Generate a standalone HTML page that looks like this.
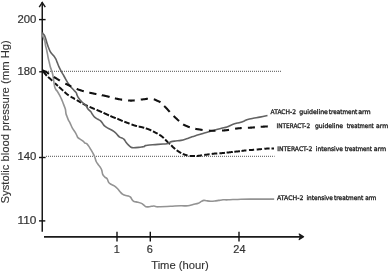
<!DOCTYPE html>
<html><head><meta charset="utf-8"><style>
html,body{margin:0;padding:0;background:#fff;}
body{width:389px;height:273px;overflow:hidden;}
svg{display:block;}
text{font-family:"Liberation Sans",Arial,sans-serif;}
.leg text{font-family:"DejaVu Sans","Liberation Sans",sans-serif;}
</style></head><body>
<svg width="389" height="273" viewBox="0 0 389 273">
<rect width="389" height="273" fill="#fff"/>
<line x1="46" y1="71.4" x2="281.6" y2="71.4" stroke="#747474" stroke-width="1.1" stroke-dasharray="1,1"/>
<line x1="46" y1="156.4" x2="274.6" y2="156.4" stroke="#747474" stroke-width="1.1" stroke-dasharray="1,1"/>
<line x1="42.25" y1="2" x2="42.25" y2="231.7" stroke="#1a1a1a" stroke-width="1.5"/>
<polyline points="39.2,7.2 42.25,2.5 45.3,7.2" fill="none" stroke="#1a1a1a" stroke-width="1.4"/>
<line x1="44" y1="236.8" x2="303" y2="236.8" stroke="#1a1a1a" stroke-width="1.7"/>
<polygon points="299.2,234 303.6,236.8 299.2,239.6 300.6,236.8" fill="#1a1a1a" stroke="#1a1a1a" stroke-width="1.2" stroke-linejoin="round"/>
<path d="M42.40,70.40 L42.50,70.40 L42.56,70.48 L42.62,70.57 L42.70,70.67 L42.78,70.78 L42.87,70.90 L42.97,71.03 L43.07,71.17 L43.17,71.32 L43.29,71.47 L43.40,71.63 L43.52,71.78 L43.64,71.95 L43.76,72.11 L43.88,72.27 L44.00,72.43 L44.13,72.60 L44.25,72.75 L44.37,72.91 L44.49,73.06 L44.60,73.20 L44.71,73.34 L44.83,73.48 L44.94,73.62 L45.05,73.76 L45.16,73.90 L45.28,74.05 L45.39,74.19 L45.51,74.33 L45.63,74.47 L45.74,74.61 L45.86,74.75 L45.98,74.89 L46.10,75.03 L46.23,75.17 L46.35,75.31 L46.48,75.45 L46.60,75.59 L46.73,75.73 L46.80,75.80 M48.00,76.91 L48.15,77.04 L48.30,77.16 L48.45,77.29 L48.60,77.41 L48.76,77.54 L48.91,77.67 L49.07,77.80 L49.22,77.93 L49.38,78.06 L49.53,78.19 L49.69,78.32 L49.84,78.46 L50.00,78.60 L50.16,78.74 L50.31,78.88 L50.47,79.03 L50.63,79.17 L50.79,79.32 L50.95,79.47 L51.11,79.62 L51.27,79.77 L51.43,79.92 L51.59,80.07 L51.75,80.23 L51.91,80.38 L52.07,80.53 L52.23,80.69 L52.30,80.75 M54.90,83.20 L55.01,83.30 L55.17,83.45 L55.33,83.60 L55.49,83.75 L55.65,83.90 L55.80,84.04 L55.96,84.19 L56.11,84.33 L56.26,84.47 L56.40,84.60 L56.54,84.73 L56.68,84.86 L56.82,84.99 L56.95,85.11 L57.08,85.23 L57.21,85.35 L57.34,85.47 L57.46,85.59 L57.59,85.70 L57.71,85.82 L57.83,85.93 L57.90,85.99 M58.90,86.90 L59.02,87.00 L59.13,87.10 L59.24,87.20 L59.35,87.30 L59.46,87.39 L59.57,87.48 L59.67,87.57 L59.78,87.66 L59.88,87.75 L59.99,87.84 L60.09,87.93 L60.20,88.02 L60.30,88.11 L60.41,88.20 L60.52,88.29 L60.63,88.39 L60.75,88.49 L60.86,88.59 L60.98,88.69 L61.10,88.80 L61.22,88.91 L61.35,89.03 L61.48,89.14 L61.61,89.26 L61.74,89.38 L61.87,89.51 L62.00,89.63 L62.14,89.76 L62.28,89.88 L62.41,90.01 L62.55,90.14 L62.69,90.27 L62.83,90.40 L62.97,90.53 L63.11,90.66 L63.20,90.75 M64.50,91.94 L64.63,92.06 L64.76,92.19 L64.90,92.31 L65.04,92.44 L65.18,92.57 L65.32,92.70 L65.46,92.82 L65.60,92.95 L65.74,93.07 L65.88,93.20 L66.03,93.32 L66.17,93.44 L66.31,93.56 L66.46,93.68 L66.60,93.80 L66.75,93.92 L66.89,94.03 L67.04,94.15 L67.18,94.27 L67.33,94.38 L67.48,94.49 L67.63,94.61 L67.78,94.72 L67.93,94.83 L68.07,94.94 L68.23,95.05 L68.38,95.16 L68.53,95.27 L68.68,95.38 L68.70,95.39 M70.60,96.60 L70.71,96.66 L70.87,96.75 L71.03,96.84 L71.19,96.93 L71.35,97.01 L71.51,97.10 L71.67,97.19 L71.83,97.27 L72.00,97.36 L72.16,97.45 L72.32,97.53 L72.48,97.62 L72.64,97.71 L72.80,97.80 L72.96,97.89 L73.12,97.98 L73.28,98.07 L73.44,98.16 L73.60,98.25 L73.77,98.34 L73.93,98.43 L74.09,98.52 L74.25,98.61 L74.41,98.70 L74.57,98.79 L74.73,98.88 L74.89,98.97 L74.90,98.97 M76.90,100.13 L76.91,100.14 L77.06,100.23 L77.21,100.32 L77.36,100.41 L77.51,100.50 L77.66,100.59 L77.81,100.68 L77.96,100.77 L78.11,100.86 L78.25,100.95 L78.40,101.04 L78.55,101.13 L78.70,101.22 L78.85,101.31 L79.00,101.40 L79.15,101.49 L79.30,101.58 L79.45,101.67 L79.60,101.76 L79.75,101.85 L79.89,101.94 L80.04,102.03 L80.19,102.12 L80.34,102.22 L80.49,102.31 L80.64,102.40 L80.79,102.49 L80.94,102.58 L81.09,102.67 L81.20,102.74 M82.70,103.59 L82.77,103.63 L82.93,103.72 L83.08,103.80 L83.24,103.89 L83.39,103.97 L83.55,104.06 L83.71,104.14 L83.87,104.22 L84.03,104.31 L84.19,104.39 L84.35,104.48 L84.52,104.56 L84.69,104.65 L84.85,104.73 L85.03,104.82 L85.20,104.90 L85.38,104.99 L85.56,105.07 L85.74,105.16 L85.93,105.24 L86.12,105.33 L86.31,105.42 L86.51,105.51 L86.71,105.59 L86.90,105.68 L87.10,105.77 L87.30,105.86 L87.49,105.94 L87.69,106.03 L87.70,106.03 M89.60,106.87 L89.67,106.90 L89.83,106.97 L89.99,107.04 L90.14,107.10 L90.29,107.17 L90.45,107.24 L90.60,107.31 L90.75,107.37 L90.91,107.44 L91.06,107.51 L91.21,107.57 L91.37,107.64 L91.53,107.71 L91.69,107.78 L91.86,107.85 L92.03,107.93 L92.20,108.00 L92.38,108.08 L92.56,108.15 L92.74,108.23 L92.93,108.31 L93.12,108.39 L93.31,108.47 L93.51,108.55 L93.70,108.64 L93.90,108.72 L94.09,108.80 L94.29,108.88 L94.49,108.96 L94.68,109.05 L94.70,109.05 M96.60,109.85 L96.69,109.89 L96.85,109.96 L97.01,110.03 L97.18,110.10 L97.34,110.16 L97.50,110.23 L97.66,110.30 L97.82,110.37 L97.98,110.44 L98.14,110.50 L98.30,110.57 L98.46,110.64 L98.62,110.71 L98.79,110.78 L98.96,110.85 L99.13,110.93 L99.30,111.00 L99.48,111.08 L99.66,111.15 L99.84,111.23 L100.02,111.31 L100.21,111.39 L100.40,111.47 L100.59,111.55 L100.78,111.63 L100.97,111.71 L101.16,111.79 L101.35,111.88 L101.54,111.96 L101.73,112.04 L101.91,112.12 L102.00,112.16 M103.50,112.83 L103.50,112.83 L103.66,112.90 L103.82,112.98 L103.98,113.05 L104.13,113.12 L104.29,113.20 L104.44,113.27 L104.59,113.34 L104.75,113.42 L104.90,113.49 L105.06,113.56 L105.21,113.64 L105.37,113.71 L105.53,113.79 L105.69,113.87 L105.86,113.94 L106.03,114.02 L106.20,114.10 L106.38,114.18 L106.56,114.26 L106.74,114.35 L106.93,114.43 L107.12,114.52 L107.32,114.60 L107.51,114.69 L107.71,114.78 L107.91,114.87 L108.11,114.96 L108.30,115.04 L108.50,115.13 L108.70,115.22 L108.89,115.31 L108.90,115.31 M110.40,115.98 L110.50,116.03 L110.65,116.10 L110.81,116.17 L110.96,116.24 L111.10,116.31 L111.25,116.38 L111.40,116.45 L111.54,116.52 L111.69,116.59 L111.84,116.65 L111.98,116.72 L112.13,116.79 L112.29,116.86 L112.44,116.92 L112.60,116.99 L112.76,117.06 L112.93,117.13 L113.10,117.20 L113.28,117.27 L113.46,117.34 L113.65,117.41 L113.84,117.48 L114.04,117.55 L114.24,117.62 L114.44,117.69 L114.65,117.76 L114.85,117.84 L115.06,117.91 L115.26,117.98 L115.47,118.05 L115.67,118.12 L115.80,118.16 M117.30,118.72 L117.33,118.73 L117.49,118.80 L117.65,118.86 L117.80,118.93 L117.95,118.99 L118.10,119.05 L118.24,119.12 L118.38,119.18 L118.53,119.24 L118.67,119.31 L118.81,119.37 L118.95,119.43 L119.09,119.50 L119.24,119.56 L119.38,119.63 L119.53,119.70 L119.68,119.76 L119.84,119.83 L120.00,119.90 L120.16,119.97 L120.33,120.04 L120.50,120.12 L120.67,120.19 L120.84,120.27 L121.01,120.34 L121.19,120.42 L121.36,120.50 L121.54,120.57 L121.72,120.65 L121.90,120.73 L122.08,120.80 L122.26,120.88 L122.43,120.96 L122.61,121.03 L122.70,121.07 M124.30,121.71 L124.36,121.73 L124.53,121.80 L124.71,121.86 L124.88,121.92 L125.05,121.99 L125.22,122.05 L125.39,122.11 L125.56,122.18 L125.74,122.24 L125.91,122.30 L126.09,122.37 L126.27,122.43 L126.45,122.50 L126.63,122.56 L126.81,122.63 L127.00,122.70 L127.19,122.77 L127.38,122.84 L127.58,122.92 L127.78,122.99 L127.98,123.07 L128.19,123.14 L128.39,123.22 L128.60,123.30 L128.80,123.38 L129.01,123.46 L129.22,123.53 L129.43,123.61 L129.60,123.68 M131.50,124.39 L131.53,124.40 L131.70,124.46 L131.86,124.53 L132.03,124.59 L132.19,124.65 L132.35,124.71 L132.51,124.77 L132.67,124.83 L132.83,124.89 L132.98,124.95 L133.14,125.01 L133.30,125.06 L133.46,125.12 L133.63,125.18 L133.79,125.23 L133.96,125.29 L134.13,125.34 L134.30,125.40 L134.48,125.45 L134.65,125.51 L134.84,125.56 L135.02,125.62 L135.20,125.67 L135.39,125.72 L135.57,125.78 L135.76,125.83 L135.95,125.88 L136.14,125.93 L136.33,125.98 L136.52,126.03 L136.70,126.08 L136.89,126.13 L137.00,126.16 M138.70,126.55 L138.71,126.55 L138.89,126.59 L139.06,126.62 L139.24,126.66 L139.41,126.69 L139.59,126.72 L139.76,126.75 L139.94,126.78 L140.11,126.81 L140.28,126.84 L140.46,126.88 L140.63,126.91 L140.80,126.95 L140.98,126.98 L141.15,127.02 L141.33,127.06 L141.50,127.10 L141.67,127.14 L141.85,127.19 L142.02,127.23 L142.20,127.28 L142.37,127.32 L142.55,127.37 L142.72,127.42 L142.90,127.47 L143.07,127.52 L143.24,127.57 L143.42,127.62 L143.59,127.67 L143.77,127.72 L143.94,127.78 L144.12,127.83 L144.20,127.85 M145.80,128.35 L145.90,128.38 L146.08,128.44 L146.26,128.49 L146.44,128.55 L146.62,128.61 L146.81,128.67 L146.99,128.73 L147.17,128.79 L147.35,128.85 L147.53,128.91 L147.71,128.97 L147.89,129.04 L148.07,129.10 L148.25,129.17 L148.42,129.23 L148.60,129.30 L148.77,129.37 L148.95,129.44 L149.12,129.51 L149.29,129.58 L149.46,129.65 L149.63,129.72 L149.80,129.79 L149.97,129.86 L150.14,129.94 L150.31,130.01 L150.48,130.09 L150.65,130.16 L150.82,130.24 L150.99,130.32 L151.15,130.40 L151.30,130.47 M153.00,131.31 L153.02,131.32 L153.19,131.41 L153.36,131.50 L153.53,131.59 L153.70,131.68 L153.87,131.77 L154.04,131.87 L154.21,131.96 L154.38,132.05 L154.55,132.14 L154.72,132.24 L154.89,132.33 L155.06,132.42 L155.23,132.51 L155.40,132.60 L155.57,132.69 L155.74,132.78 L155.91,132.87 L156.09,132.96 L156.26,133.05 L156.44,133.14 L156.61,133.23 L156.78,133.32 L156.96,133.40 L157.13,133.49 L157.30,133.58 L157.48,133.67 L157.60,133.74 M159.30,134.70 L159.41,134.76 L159.56,134.85 L159.70,134.94 L159.85,135.03 L159.99,135.11 L160.13,135.20 L160.28,135.29 L160.42,135.38 L160.56,135.48 L160.70,135.57 L160.84,135.67 L160.98,135.77 L161.12,135.87 L161.26,135.97 L161.41,136.08 L161.55,136.19 L161.70,136.30 L161.85,136.42 L162.00,136.54 L162.15,136.66 L162.30,136.78 L162.45,136.91 L162.60,137.04 L162.75,137.17 L162.90,137.31 L163.05,137.44 L163.20,137.58 L163.35,137.72 L163.50,137.86 L163.65,138.00 L163.80,138.14 M165.20,139.50 L165.29,139.59 L165.43,139.74 L165.58,139.89 L165.72,140.04 L165.87,140.20 L166.01,140.35 L166.16,140.51 L166.30,140.66 L166.44,140.81 L166.59,140.97 L166.73,141.12 L166.88,141.27 L167.02,141.42 L167.17,141.57 L167.31,141.71 L167.46,141.86 L167.60,142.00 L167.75,142.14 L167.89,142.28 L168.04,142.41 L168.18,142.55 L168.33,142.68 L168.48,142.81 L168.63,142.94 L168.77,143.07 L168.92,143.20 L169.07,143.33 L169.22,143.45 L169.36,143.58 L169.51,143.71 L169.65,143.83 L169.80,143.96 L169.94,144.09 L170.00,144.14 M171.20,145.29 L171.29,145.38 L171.42,145.51 L171.55,145.64 L171.67,145.78 L171.80,145.91 L171.93,146.04 L172.05,146.17 L172.18,146.30 L172.31,146.43 L172.44,146.56 L172.57,146.69 L172.70,146.82 L172.83,146.94 L172.96,147.07 L173.10,147.20 L173.24,147.33 L173.38,147.46 L173.52,147.58 L173.66,147.71 L173.80,147.84 L173.94,147.97 L174.09,148.10 L174.23,148.23 L174.38,148.35 L174.52,148.48 L174.67,148.61 L174.82,148.73 L174.97,148.86 L175.11,148.98 L175.20,149.05 M176.70,150.23 L176.74,150.26 L176.89,150.37 L177.04,150.48 L177.19,150.59 L177.34,150.69 L177.49,150.80 L177.64,150.90 L177.80,151.01 L177.95,151.11 L178.10,151.21 L178.25,151.31 L178.40,151.41 L178.55,151.51 L178.70,151.61 L178.85,151.70 L179.00,151.80 L179.15,151.89 L179.30,151.99 L179.45,152.08 L179.60,152.17 L179.75,152.26 L179.89,152.35 L180.04,152.44 L180.19,152.53 L180.34,152.61 L180.49,152.70 L180.64,152.78 L180.79,152.87 L180.94,152.95 L181.09,153.03 L181.20,153.09 M182.80,153.87 L182.94,153.93 L183.09,154.00 L183.25,154.07 L183.41,154.13 L183.57,154.20 L183.73,154.26 L183.89,154.33 L184.05,154.39 L184.21,154.45 L184.37,154.51 L184.54,154.57 L184.70,154.63 L184.87,154.69 L185.03,154.74 L185.20,154.80 L185.37,154.85 L185.54,154.91 L185.71,154.96 L185.88,155.01 L186.05,155.06 L186.22,155.12 L186.40,155.16 L186.57,155.21 L186.75,155.26 L186.93,155.31 L187.10,155.35 L187.28,155.40 L187.46,155.44 L187.60,155.47 M189.60,155.85 L189.77,155.87 L189.95,155.90 L190.13,155.92 L190.31,155.94 L190.49,155.96 L190.67,155.98 L190.85,156.00 L191.03,156.02 L191.21,156.03 L191.39,156.05 L191.57,156.06 L191.75,156.07 L191.94,156.08 L192.12,156.09 L192.30,156.10 L192.48,156.11 L192.67,156.11 L192.85,156.11 L193.04,156.12 L193.22,156.11 L193.41,156.11 L193.60,156.11 L193.79,156.11 L193.97,156.10 L194.16,156.09 L194.35,156.09 L194.54,156.08 L194.72,156.07 L194.91,156.06 L195.00,156.06 M196.90,155.94 L197.04,155.93 L197.20,155.92 L197.37,155.91 L197.54,155.90 L197.71,155.88 L197.87,155.87 L198.04,155.85 L198.21,155.84 L198.37,155.82 L198.54,155.80 L198.71,155.78 L198.88,155.76 L199.05,155.74 L199.23,155.72 L199.40,155.70 L199.58,155.68 L199.75,155.65 L199.93,155.63 L200.10,155.60 L200.28,155.57 L200.46,155.54 L200.63,155.51 L200.81,155.48 L200.99,155.44 L201.17,155.41 L201.35,155.38 L201.53,155.35 L201.71,155.31 L201.89,155.28 L201.90,155.28 M204.20,154.94 L204.35,154.92 L204.54,154.89 L204.74,154.87 L204.94,154.84 L205.14,154.82 L205.33,154.80 L205.53,154.77 L205.73,154.75 L205.93,154.72 L206.12,154.70 L206.32,154.67 L206.51,154.65 L206.71,154.62 L206.90,154.60 L207.09,154.57 L207.28,154.55 L207.48,154.53 L207.67,154.50 L207.86,154.47 L208.05,154.45 L208.24,154.42 L208.43,154.40 L208.62,154.38 L208.81,154.35 L209.00,154.32 L209.18,154.30 L209.37,154.28 L209.56,154.25 L209.60,154.25 M211.70,153.96 L211.83,153.94 L212.02,153.92 L212.21,153.89 L212.40,153.86 L212.59,153.84 L212.78,153.81 L212.97,153.79 L213.16,153.76 L213.35,153.74 L213.54,153.71 L213.73,153.69 L213.92,153.66 L214.11,153.64 L214.31,153.62 L214.50,153.60 L214.70,153.58 L214.89,153.56 L215.09,153.54 L215.29,153.53 L215.49,153.51 L215.69,153.49 L215.90,153.48 L216.10,153.46 L216.30,153.45 L216.51,153.43 L216.71,153.42 L216.91,153.40 L217.11,153.39 L217.30,153.38 M219.40,153.25 L219.44,153.25 L219.63,153.24 L219.81,153.23 L220.00,153.22 L220.18,153.21 L220.36,153.21 L220.54,153.20 L220.73,153.19 L220.91,153.18 L221.09,153.17 L221.28,153.16 L221.46,153.15 L221.64,153.14 L221.83,153.13 L222.01,153.11 L222.20,153.10 L222.39,153.08 L222.58,153.07 L222.77,153.05 L222.96,153.03 L223.15,153.01 L223.34,152.99 L223.53,152.97 L223.72,152.95 L223.91,152.93 L224.10,152.91 L224.29,152.89 L224.48,152.87 L224.67,152.85 L224.86,152.83 L225.00,152.81 M226.60,152.64 L226.74,152.62 L226.93,152.60 L227.11,152.58 L227.30,152.56 L227.48,152.54 L227.67,152.53 L227.85,152.51 L228.03,152.49 L228.22,152.47 L228.40,152.45 L228.59,152.43 L228.77,152.41 L228.96,152.39 L229.14,152.37 L229.33,152.34 L229.51,152.32 L229.70,152.30 L229.89,152.28 L230.08,152.25 L230.27,152.23 L230.46,152.20 L230.65,152.18 L230.84,152.15 L231.03,152.12 L231.22,152.10 L231.41,152.07 L231.61,152.04 L231.80,152.02 L231.99,151.99 L232.18,151.96 L232.37,151.94 L232.56,151.91 L232.75,151.89 L232.80,151.88 M234.30,151.72 L234.41,151.71 L234.59,151.70 L234.77,151.68 L234.95,151.67 L235.13,151.66 L235.31,151.64 L235.49,151.63 L235.67,151.62 L235.85,151.60 L236.03,151.59 L236.20,151.58 L236.38,151.56 L236.56,151.55 L236.74,151.53 L236.92,151.52 L237.10,151.50 L237.28,151.48 L237.46,151.46 L237.64,151.45 L237.82,151.43 L238.01,151.41 L238.19,151.39 L238.37,151.37 L238.55,151.35 L238.74,151.33 L238.92,151.31 L239.10,151.29 L239.28,151.27 L239.46,151.25 L239.64,151.23 L239.82,151.21 L240.00,151.19 L240.00,151.19 M241.50,150.98 L241.53,150.98 L241.69,150.95 L241.85,150.93 L242.01,150.90 L242.17,150.88 L242.32,150.85 L242.48,150.82 L242.64,150.80 L242.81,150.77 L242.97,150.75 L243.13,150.72 L243.30,150.70 L243.47,150.67 L243.64,150.65 L243.82,150.62 L244.00,150.60 L244.18,150.58 L244.37,150.56 L244.57,150.53 L244.76,150.51 L244.96,150.49 L245.16,150.47 L245.37,150.44 L245.57,150.42 L245.78,150.40 L245.99,150.38 L246.20,150.36 L246.40,150.34 M249.00,150.14 L249.07,150.13 L249.24,150.12 L249.41,150.12 L249.58,150.11 L249.75,150.10 L249.92,150.09 L250.09,150.08 L250.26,150.08 L250.43,150.07 L250.60,150.06 L250.78,150.05 L250.95,150.04 L251.13,150.03 L251.31,150.01 L251.50,150.00 L251.69,149.98 L251.88,149.97 L252.07,149.95 L252.27,149.93 L252.47,149.91 L252.67,149.89 L252.87,149.87 L253.07,149.85 L253.28,149.83 L253.48,149.81 L253.69,149.78 L253.89,149.76 L254.09,149.74 L254.10,149.74 M256.70,149.50 L256.85,149.49 L257.04,149.48 L257.23,149.46 L257.42,149.45 L257.61,149.44 L257.80,149.42 L257.99,149.41 L258.17,149.39 L258.36,149.38 L258.55,149.36 L258.74,149.35 L258.92,149.33 L259.11,149.32 L259.30,149.30 L259.49,149.28 L259.67,149.26 L259.86,149.24 L260.04,149.22 L260.23,149.20 L260.41,149.18 L260.59,149.16 L260.77,149.14 L260.96,149.12 L261.14,149.10 L261.32,149.08 L261.50,149.06 L261.69,149.04 L261.87,149.02 L261.90,149.01 M264.40,148.77 L264.43,148.76 L264.61,148.75 L264.79,148.73 L264.98,148.72 L265.17,148.70 L265.37,148.69 L265.57,148.67 L265.78,148.66 L266.00,148.65 L266.23,148.63 L266.48,148.62 L266.73,148.61 L267.00,148.60 L267.29,148.59 L267.61,148.58 L267.95,148.57 L268.32,148.57 L268.70,148.56 L269.10,148.55 L269.51,148.55 L269.60,148.55 M271.50,148.52 L271.56,148.52 L271.95,148.52 L272.32,148.52 L272.67,148.51 L273.00,148.51 L273.30,148.51 L273.57,148.51 L273.80,148.50 L274.00,148.50 " fill="none" stroke="#111" stroke-width="2"/>
<path d="M42.10,32.80 C42.15,33.08 42.22,33.80 42.40,34.50 C42.58,35.20 42.88,36.12 43.20,37.00 C43.52,37.88 43.98,38.88 44.30,39.80 C44.62,40.72 44.90,41.57 45.10,42.50 C45.30,43.43 45.25,44.18 45.50,45.40 C45.75,46.62 46.27,48.33 46.60,49.80 C46.93,51.27 47.22,52.75 47.50,54.20 C47.78,55.65 48.00,57.12 48.30,58.50 C48.60,59.88 48.98,61.17 49.30,62.50 C49.62,63.83 49.85,65.25 50.20,66.50 C50.55,67.75 51.02,68.83 51.40,70.00 C51.78,71.17 52.20,72.33 52.50,73.50 C52.80,74.67 53.00,75.83 53.20,77.00 C53.40,78.17 53.53,79.33 53.70,80.50 C53.87,81.67 54.02,82.87 54.20,84.00 C54.38,85.13 54.50,86.35 54.80,87.30 C55.10,88.25 55.53,88.97 56.00,89.70 C56.47,90.43 57.03,90.85 57.60,91.70 C58.17,92.55 58.92,93.92 59.40,94.80 C59.88,95.68 60.13,96.23 60.50,97.00 C60.87,97.77 61.23,98.57 61.60,99.40 C61.97,100.23 62.33,101.08 62.70,102.00 C63.07,102.92 63.35,103.68 63.80,104.90 C64.25,106.12 65.03,107.83 65.40,109.30 C65.77,110.77 65.73,112.50 66.00,113.70 C66.27,114.90 66.62,115.48 67.00,116.50 C67.38,117.52 67.77,118.67 68.30,119.80 C68.83,120.93 69.52,121.90 70.20,123.30 C70.88,124.70 71.58,126.73 72.40,128.20 C73.22,129.67 74.37,130.90 75.10,132.10 C75.83,133.30 76.33,134.48 76.80,135.40 C77.27,136.32 77.17,136.87 77.90,137.60 C78.63,138.33 80.28,139.17 81.20,139.80 C82.12,140.43 82.77,140.85 83.40,141.40 C84.03,141.95 84.45,142.73 85.00,143.10 C85.55,143.47 86.05,143.05 86.70,143.60 C87.35,144.15 88.20,145.38 88.90,146.40 C89.60,147.42 90.23,148.57 90.90,149.70 C91.57,150.83 92.28,152.07 92.90,153.20 C93.52,154.33 94.05,155.12 94.60,156.50 C95.15,157.88 95.65,160.22 96.20,161.50 C96.75,162.78 97.25,163.28 97.90,164.20 C98.55,165.12 99.47,166.05 100.10,167.00 C100.73,167.95 101.27,168.67 101.70,169.90 C102.13,171.13 102.17,173.20 102.70,174.40 C103.23,175.60 104.17,176.37 104.90,177.10 C105.63,177.83 106.45,177.88 107.10,178.80 C107.75,179.72 108.15,181.68 108.80,182.60 C109.45,183.52 110.08,183.75 111.00,184.30 C111.92,184.85 113.20,185.17 114.30,185.90 C115.40,186.63 116.60,187.68 117.60,188.70 C118.60,189.72 119.48,191.08 120.30,192.00 C121.12,192.92 121.72,193.65 122.50,194.20 C123.28,194.75 123.97,194.98 125.00,195.30 C126.03,195.62 127.78,195.80 128.70,196.10 C129.62,196.40 129.90,196.47 130.50,197.10 C131.10,197.73 131.70,199.17 132.30,199.90 C132.90,200.63 133.18,201.12 134.10,201.50 C135.02,201.88 136.57,201.88 137.80,202.20 C139.03,202.52 140.43,202.87 141.50,203.40 C142.57,203.93 143.45,204.83 144.20,205.40 C144.95,205.97 145.23,206.57 146.00,206.80 C146.77,207.03 147.88,206.88 148.80,206.80 C149.72,206.72 150.62,206.43 151.50,206.30 C152.38,206.17 153.15,205.92 154.10,206.00 C155.05,206.08 156.17,206.68 157.20,206.80 C158.23,206.92 158.07,206.78 160.30,206.70 C162.53,206.62 167.18,206.45 170.60,206.30 C174.02,206.15 177.90,205.88 180.80,205.80 C183.70,205.72 185.95,206.02 188.00,205.80 C190.05,205.58 191.38,204.92 193.10,204.50 C194.82,204.08 196.92,203.82 198.30,203.30 C199.68,202.78 200.47,201.88 201.40,201.40 C202.33,200.92 203.05,200.50 203.90,200.40 C204.75,200.30 205.38,200.67 206.50,200.80 C207.62,200.93 209.23,201.17 210.60,201.20 C211.97,201.23 213.33,201.13 214.70,201.00 C216.07,200.87 217.42,200.60 218.80,200.40 C220.18,200.20 221.47,199.90 223.00,199.80 C224.53,199.70 225.02,199.90 228.00,199.80 C230.98,199.70 236.62,199.32 240.90,199.20 C245.18,199.08 248.15,199.12 253.70,199.10 C259.25,199.08 270.78,199.10 274.20,199.10" fill="none" stroke="#939393" stroke-width="1.6" stroke-linejoin="round"/>
<path d="M42.30,32.60 C42.45,32.82 42.87,33.47 43.20,33.90 C43.53,34.33 43.95,34.58 44.30,35.20 C44.65,35.82 45.00,36.80 45.30,37.60 C45.60,38.40 45.82,39.07 46.10,40.00 C46.38,40.93 46.67,42.12 47.00,43.20 C47.33,44.28 47.58,45.15 48.10,46.50 C48.62,47.85 49.43,50.03 50.10,51.30 C50.77,52.57 51.43,53.28 52.10,54.10 C52.77,54.92 53.47,55.35 54.10,56.20 C54.73,57.05 55.38,58.17 55.90,59.20 C56.42,60.23 56.70,61.17 57.20,62.40 C57.70,63.63 58.27,65.18 58.90,66.60 C59.53,68.02 60.33,69.63 61.00,70.90 C61.67,72.17 62.27,73.10 62.90,74.20 C63.53,75.30 64.15,76.35 64.80,77.50 C65.45,78.65 66.17,80.02 66.80,81.10 C67.43,82.18 68.00,83.15 68.60,84.00 C69.20,84.85 69.78,85.45 70.40,86.20 C71.02,86.95 71.62,87.72 72.30,88.50 C72.98,89.28 73.83,90.18 74.50,90.90 C75.17,91.62 75.88,92.12 76.30,92.80 C76.72,93.48 76.65,94.17 77.00,95.00 C77.35,95.83 77.82,96.92 78.40,97.80 C78.98,98.68 79.82,99.52 80.50,100.30 C81.18,101.08 81.58,101.58 82.50,102.50 C83.42,103.42 85.08,104.73 86.00,105.80 C86.92,106.87 87.22,107.93 88.00,108.90 C88.78,109.87 89.97,110.70 90.70,111.60 C91.43,112.50 91.75,113.38 92.40,114.30 C93.05,115.22 93.68,116.27 94.60,117.10 C95.52,117.93 96.90,118.67 97.90,119.30 C98.90,119.93 99.78,120.17 100.60,120.90 C101.42,121.63 102.15,122.87 102.80,123.70 C103.45,124.53 103.67,125.17 104.50,125.90 C105.33,126.63 106.70,127.47 107.80,128.10 C108.90,128.73 110.10,129.15 111.10,129.70 C112.10,130.25 112.98,130.82 113.80,131.40 C114.62,131.98 115.37,132.58 116.00,133.20 C116.63,133.82 117.00,134.45 117.60,135.10 C118.20,135.75 118.82,136.60 119.60,137.10 C120.38,137.60 121.55,137.72 122.30,138.10 C123.05,138.48 123.48,138.72 124.10,139.40 C124.72,140.08 125.30,141.28 126.00,142.20 C126.70,143.12 127.47,144.07 128.30,144.90 C129.13,145.73 130.17,146.73 131.00,147.20 C131.83,147.67 132.00,147.67 133.30,147.70 C134.60,147.73 137.28,147.53 138.80,147.40 C140.32,147.27 141.50,147.03 142.40,146.90 C143.30,146.77 143.70,146.82 144.20,146.60 C144.70,146.38 144.82,145.83 145.40,145.60 C145.98,145.37 146.03,145.37 147.70,145.20 C149.37,145.03 152.83,144.80 155.40,144.60 C157.97,144.40 161.17,144.13 163.10,144.00 C165.03,143.87 165.93,144.05 167.00,143.80 C168.07,143.55 168.77,142.87 169.50,142.50 C170.23,142.13 170.40,141.85 171.40,141.60 C172.40,141.35 173.90,141.20 175.50,141.00 C177.10,140.80 179.17,140.77 181.00,140.40 C182.83,140.03 184.67,139.40 186.50,138.80 C188.33,138.20 190.17,137.42 192.00,136.80 C193.83,136.18 195.67,135.67 197.50,135.10 C199.33,134.53 201.27,133.92 203.00,133.40 C204.73,132.88 206.40,132.43 207.90,132.00 C209.40,131.57 210.65,131.18 212.00,130.80 C213.35,130.42 214.42,130.13 216.00,129.70 C217.58,129.27 219.67,128.65 221.50,128.20 C223.33,127.75 225.17,127.62 227.00,127.00 C228.83,126.38 230.67,125.18 232.50,124.50 C234.33,123.82 236.75,123.23 238.00,122.90 C239.25,122.57 238.93,122.83 240.00,122.50 C241.07,122.17 243.12,121.40 244.40,120.90 C245.68,120.40 246.23,119.93 247.70,119.50 C249.17,119.07 251.18,118.70 253.20,118.30 C255.22,117.90 257.42,117.57 259.80,117.10 C262.18,116.63 266.22,115.77 267.50,115.50" fill="none" stroke="#626262" stroke-width="1.6" stroke-linejoin="round"/>
<path d="M42.40,70.40 L42.50,70.40 L42.59,70.44 L42.70,70.48 L42.82,70.53 L42.95,70.58 L43.09,70.63 L43.25,70.68 L43.41,70.74 L43.58,70.81 L43.75,70.87 L43.94,70.94 L44.13,71.02 L44.32,71.10 L44.52,71.18 L44.73,71.27 L44.94,71.36 L45.15,71.46 L45.36,71.56 L45.57,71.67 L45.79,71.78 L46.00,71.90 L46.22,72.02 L46.44,72.16 L46.66,72.30 L46.89,72.44 L47.13,72.59 L47.36,72.75 L47.61,72.91 L47.85,73.08 L48.10,73.25 L48.36,73.43 L48.61,73.60 L48.87,73.78 L48.90,73.80 M53.90,76.96 L54.19,77.13 L54.48,77.31 L54.78,77.49 L55.08,77.67 L55.37,77.84 L55.67,78.02 L55.95,78.19 L56.24,78.36 L56.52,78.53 L56.80,78.70 L57.07,78.87 L57.34,79.03 L57.61,79.20 L57.87,79.37 L58.13,79.53 L58.39,79.69 L58.65,79.86 L58.90,80.02 L59.16,80.18 L59.41,80.34 L59.67,80.50 L59.80,80.59 M65.30,83.59 L65.56,83.71 L65.85,83.85 L66.13,83.99 L66.42,84.13 L66.71,84.27 L67.01,84.41 L67.30,84.55 L67.60,84.70 L67.90,84.85 L68.21,85.00 L68.52,85.16 L68.83,85.31 L69.15,85.47 L69.46,85.63 L69.78,85.79 L70.11,85.95 L70.43,86.11 L70.76,86.27 L71.08,86.44 L71.20,86.49 M76.70,88.90 L76.85,88.96 L77.16,89.08 L77.48,89.20 L77.79,89.32 L78.11,89.43 L78.42,89.55 L78.73,89.66 L79.05,89.77 L79.36,89.88 L79.67,89.99 L79.99,90.09 L80.30,90.20 L80.61,90.30 L80.92,90.41 L81.23,90.51 L81.54,90.60 L81.85,90.70 L82.16,90.80 L82.47,90.89 L82.78,90.98 L83.09,91.07 L83.39,91.16 L83.70,91.25 L83.80,91.28 M89.30,92.65 L89.37,92.66 L89.69,92.73 L90.01,92.80 L90.33,92.87 L90.65,92.93 L90.97,93.00 L91.30,93.07 L91.62,93.13 L91.94,93.20 L92.26,93.27 L92.58,93.33 L92.90,93.40 L93.22,93.47 L93.54,93.53 L93.86,93.60 L94.18,93.67 L94.50,93.73 L94.82,93.80 L95.14,93.86 L95.46,93.93 L95.77,93.99 L96.09,94.06 L96.40,94.12 M101.90,95.20 L101.91,95.21 L102.23,95.27 L102.56,95.33 L102.89,95.39 L103.22,95.46 L103.54,95.52 L103.87,95.59 L104.19,95.65 L104.52,95.72 L104.84,95.79 L105.16,95.86 L105.48,95.93 L105.80,96.00 L106.12,96.07 L106.43,96.15 L106.74,96.22 L107.05,96.30 L107.36,96.38 L107.67,96.46 L107.98,96.54 L108.29,96.62 L108.59,96.71 L108.90,96.79 L109.21,96.87 L109.51,96.95 L109.60,96.98 M114.90,98.31 L114.90,98.31 L115.23,98.39 L115.56,98.46 L115.89,98.54 L116.21,98.62 L116.54,98.69 L116.87,98.76 L117.20,98.83 L117.52,98.90 L117.85,98.97 L118.17,99.04 L118.50,99.10 L118.83,99.16 L119.15,99.22 L119.48,99.28 L119.80,99.34 L120.13,99.40 L120.45,99.45 L120.78,99.51 L121.10,99.56 L121.43,99.61 L121.76,99.66 L122.08,99.71 L122.10,99.71 M128.10,100.45 L128.19,100.46 L128.51,100.48 L128.83,100.51 L129.15,100.53 L129.47,100.55 L129.79,100.57 L130.11,100.58 L130.43,100.59 L130.75,100.60 L131.08,100.60 L131.40,100.60 L131.73,100.59 L132.05,100.58 L132.38,100.56 L132.71,100.54 L133.04,100.51 L133.37,100.48 L133.70,100.44 L134.04,100.41 L134.37,100.37 L134.70,100.32 M140.80,99.60 L141.02,99.57 L141.36,99.54 L141.69,99.50 L142.02,99.47 L142.34,99.43 L142.66,99.40 L142.97,99.36 L143.27,99.33 L143.57,99.29 L143.85,99.26 L144.13,99.23 L144.40,99.20 L144.66,99.17 L144.90,99.14 L145.13,99.10 L145.35,99.07 L145.56,99.04 L145.76,99.00 L145.96,98.97 L146.15,98.93 L146.33,98.90 L146.52,98.87 L146.70,98.84 L146.88,98.81 L147.07,98.79 L147.25,98.76 L147.44,98.74 L147.64,98.73 L147.84,98.71 L147.90,98.71 M153.80,99.30 L154.01,99.35 L154.21,99.41 L154.40,99.46 L154.59,99.53 L154.77,99.59 L154.94,99.65 L155.10,99.72 L155.26,99.79 L155.42,99.86 L155.58,99.94 L155.73,100.01 L155.88,100.09 L156.02,100.16 L156.17,100.24 L156.32,100.32 L156.47,100.39 L156.62,100.47 L156.78,100.55 L156.94,100.62 L157.10,100.70 L157.26,100.77 L157.43,100.84 L157.59,100.91 L157.76,100.98 L157.92,101.04 L158.08,101.11 L158.24,101.17 L158.41,101.23 L158.57,101.30 L158.73,101.37 L158.89,101.44 L159.06,101.51 L159.22,101.59 L159.39,101.67 L159.55,101.76 L159.72,101.86 L159.89,101.96 L160.06,102.06 L160.23,102.18 L160.40,102.30 M164.20,106.00 L164.32,106.12 L164.48,106.27 L164.64,106.43 L164.79,106.58 L164.94,106.72 L165.09,106.87 L165.24,107.02 L165.39,107.16 L165.54,107.31 L165.68,107.45 L165.83,107.60 L165.97,107.74 L166.12,107.89 L166.26,108.03 L166.41,108.18 L166.56,108.33 L166.70,108.49 L166.85,108.64 L167.00,108.80 L167.15,108.96 L167.30,109.12 L167.44,109.29 L167.59,109.45 L167.74,109.61 L167.88,109.78 L168.03,109.95 L168.17,110.12 L168.32,110.29 L168.46,110.46 L168.61,110.63 L168.76,110.80 L168.91,110.97 L169.06,111.15 L169.21,111.32 L169.36,111.49 L169.52,111.67 L169.68,111.85 L169.70,111.87 M173.60,115.90 L173.76,116.06 L173.91,116.21 L174.06,116.36 L174.21,116.51 L174.36,116.65 L174.50,116.79 L174.64,116.93 L174.78,117.06 L174.91,117.19 L175.05,117.33 L175.18,117.45 L175.32,117.58 L175.45,117.71 L175.59,117.84 L175.72,117.96 L175.85,118.09 L175.99,118.22 L176.12,118.34 L176.26,118.47 L176.40,118.60 L176.54,118.73 L176.67,118.85 L176.81,118.98 L176.94,119.10 L177.07,119.22 L177.20,119.34 L177.33,119.46 L177.46,119.58 L177.59,119.69 L177.73,119.81 L177.86,119.93 L177.99,120.05 L178.13,120.17 L178.27,120.30 L178.42,120.42 L178.56,120.55 L178.71,120.68 L178.87,120.82 L179.03,120.96 L179.10,121.01 M183.20,124.40 L183.38,124.52 L183.56,124.63 L183.73,124.73 L183.90,124.83 L184.07,124.93 L184.24,125.01 L184.41,125.10 L184.57,125.18 L184.73,125.25 L184.89,125.33 L185.05,125.40 L185.21,125.46 L185.37,125.53 L185.53,125.60 L185.69,125.66 L185.85,125.73 L186.01,125.79 L186.17,125.86 L186.34,125.93 L186.50,126.00 L186.66,126.07 L186.83,126.14 L186.99,126.21 L187.15,126.28 L187.30,126.35 L187.46,126.41 L187.62,126.48 L187.78,126.54 L187.93,126.61 L188.09,126.67 L188.25,126.73 L188.42,126.79 L188.58,126.86 L188.74,126.92 L188.91,126.98 L189.08,127.04 L189.26,127.11 L189.43,127.17 L189.61,127.24 L189.80,127.30 M195.30,128.85 L195.41,128.87 L195.65,128.91 L195.89,128.95 L196.14,128.99 L196.39,129.03 L196.64,129.06 L196.89,129.10 L197.14,129.13 L197.40,129.17 L197.66,129.20 L197.92,129.24 L198.19,129.28 L198.46,129.32 L198.73,129.36 L199.00,129.40 L199.28,129.44 L199.55,129.49 L199.83,129.53 L200.12,129.58 L200.40,129.63 L200.69,129.68 L200.98,129.72 L201.27,129.77 L201.57,129.82 L201.86,129.87 L202.16,129.92 L202.47,129.96 L202.60,129.98 M208.90,130.64 L208.99,130.64 L209.36,130.67 L209.74,130.69 L210.11,130.71 L210.47,130.73 L210.83,130.75 L211.18,130.77 L211.53,130.78 L211.87,130.79 L212.20,130.80 L212.52,130.81 L212.83,130.81 L213.13,130.81 L213.42,130.81 L213.71,130.80 L213.99,130.79 L214.27,130.79 L214.54,130.78 L214.81,130.76 L215.08,130.75 L215.35,130.74 L215.40,130.73 M222.00,130.49 L222.10,130.49 L222.49,130.48 L222.88,130.46 L223.27,130.44 L223.66,130.43 L224.04,130.41 L224.41,130.38 L224.78,130.36 L225.15,130.33 L225.50,130.30 L225.85,130.27 L226.19,130.23 L226.53,130.19 L226.87,130.14 L227.20,130.10 L227.53,130.05 L227.85,130.00 L228.18,129.95 L228.50,129.90 L228.82,129.84 L229.00,129.81 M235.10,128.78 L235.19,128.76 L235.51,128.71 L235.83,128.66 L236.15,128.61 L236.47,128.56 L236.79,128.51 L237.11,128.46 L237.43,128.42 L237.75,128.38 L238.08,128.34 L238.40,128.30 L238.73,128.27 L239.05,128.24 L239.38,128.21 L239.71,128.18 L240.04,128.16 L240.37,128.13 L240.70,128.11 L241.04,128.09 L241.37,128.07 L241.70,128.06 M247.90,127.77 L248.20,127.76 L248.52,127.75 L248.84,127.74 L249.15,127.72 L249.47,127.71 L249.79,127.69 L250.11,127.68 L250.43,127.66 L250.75,127.64 L251.08,127.62 L251.40,127.60 L251.73,127.58 L252.05,127.55 L252.38,127.52 L252.71,127.50 L253.04,127.47 L253.37,127.44 L253.71,127.40 L254.04,127.37 L254.37,127.34 L254.71,127.31 L254.90,127.29 M260.70,126.81 L261.00,126.80 L261.33,126.77 L261.66,126.76 L261.98,126.74 L262.30,126.72 L262.61,126.70 L262.91,126.68 L263.21,126.66 L263.50,126.65 L263.78,126.63 L264.04,126.62 L264.30,126.60 L264.55,126.59 L264.79,126.57 L265.03,126.56 L265.27,126.54 L265.49,126.53 L265.72,126.52 L265.93,126.51 L266.14,126.50 L266.35,126.49 L266.54,126.47 L266.73,126.47 L266.91,126.46 L267.08,126.45 L267.24,126.44 L267.40,126.43 L267.54,126.42 L267.67,126.42 L267.79,126.41 L267.80,126.41 " fill="none" stroke="#111" stroke-width="2.1"/>
<g stroke="#111" stroke-width="1.4">
<line x1="39" y1="19.6" x2="45.6" y2="19.6"/>
<line x1="39.2" y1="71.8" x2="45.3" y2="71.8"/>
<line x1="39" y1="157.5" x2="45.6" y2="157.5"/>
<line x1="39" y1="220.9" x2="45.3" y2="220.9"/>
<line x1="117" y1="231.8" x2="117" y2="241.6"/>
<line x1="150.3" y1="231.8" x2="150.3" y2="241.6"/>
<line x1="239" y1="231.8" x2="239" y2="241.6"/>
</g>
<g fill="#333" stroke="#333" stroke-width="0.2" font-size="10.9">
<text x="36.4" y="23.4" text-anchor="end" textLength="18.9" lengthAdjust="spacingAndGlyphs">200</text>
<text x="36.4" y="74.7" text-anchor="end" textLength="18.9" lengthAdjust="spacingAndGlyphs">180</text>
<text x="36.4" y="160.3" text-anchor="end" textLength="18.9" lengthAdjust="spacingAndGlyphs">140</text>
<text x="36.4" y="224.3" text-anchor="end" textLength="18.9" lengthAdjust="spacingAndGlyphs">110</text>
<text x="116.9" y="252.5" text-anchor="middle">1</text>
<text x="149.8" y="252.5" text-anchor="middle">6</text>
<text x="239.4" y="252.6" text-anchor="middle">24</text>
</g>
<text x="151.2" y="269.1" fill="#333" stroke="#333" stroke-width="0.12" font-size="11" textLength="57.6" lengthAdjust="spacingAndGlyphs">Time (hour)</text>
<text transform="translate(8.6,203.5) rotate(-90)" fill="#333" stroke="#333" stroke-width="0.12" font-size="11" textLength="163.3" lengthAdjust="spacingAndGlyphs">Systolic blood pressure (mm Hg)</text>
<g fill="#222" stroke="#222" stroke-width="0.33" font-size="6.3" class="leg">
<text x="270.55" y="114.2" textLength="25.50" lengthAdjust="spacingAndGlyphs">ATACH-2</text>
<text x="299.35" y="114.2" textLength="28.60" lengthAdjust="spacingAndGlyphs">guideline</text>
<text x="328.85" y="114.2" textLength="28.50" lengthAdjust="spacingAndGlyphs">treatment</text>
<text x="358.25" y="114.2" textLength="12.50" lengthAdjust="spacingAndGlyphs">arm</text>
<text x="276.55" y="127.7" textLength="33.50" lengthAdjust="spacingAndGlyphs">INTERACT-2</text>
<text x="314.95" y="127.7" textLength="28.20" lengthAdjust="spacingAndGlyphs">guideline</text>
<text x="346.65" y="127.7" textLength="27.10" lengthAdjust="spacingAndGlyphs">treatment</text>
<text x="376.05" y="127.7" textLength="12.10" lengthAdjust="spacingAndGlyphs">arm</text>
<text x="277.15" y="150.6" textLength="35.10" lengthAdjust="spacingAndGlyphs">INTERACT-2</text>
<text x="315.85" y="150.6" textLength="27.00" lengthAdjust="spacingAndGlyphs">intensive</text>
<text x="344.75" y="150.6" textLength="27.00" lengthAdjust="spacingAndGlyphs">treatment</text>
<text x="373.75" y="150.6" textLength="12.50" lengthAdjust="spacingAndGlyphs">arm</text>
<text x="277.05" y="200.2" textLength="26.30" lengthAdjust="spacingAndGlyphs">ATACH-2</text>
<text x="306.45" y="200.2" textLength="26.40" lengthAdjust="spacingAndGlyphs">intensive</text>
<text x="334.05" y="200.2" textLength="29.20" lengthAdjust="spacingAndGlyphs">treatment</text>
<text x="365.15" y="200.2" textLength="11.20" lengthAdjust="spacingAndGlyphs">arm</text>
</g>
</svg>
</body></html>
